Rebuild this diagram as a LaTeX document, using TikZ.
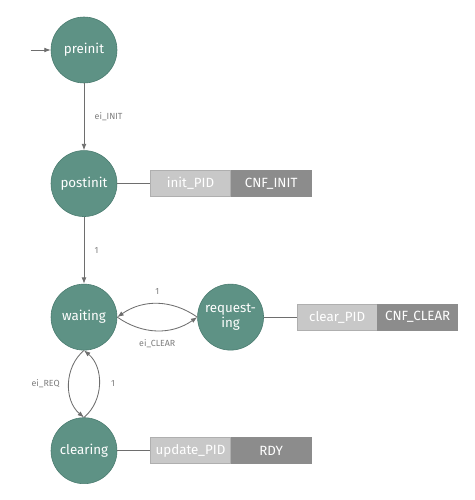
\documentclass[tikz,border=0pt]{standalone}
\usepackage{fontspec}
\setmainfont{Fira Sans}
\usetikzlibrary{
    arrows.meta,
    positioning
}
\definecolor{stateteal}{RGB}{94,146,133}
\definecolor{stateedge}{RGB}{72,122,110}
\definecolor{actlight}{RGB}{200,200,200}
\definecolor{actdark}{RGB}{140,140,140}
\definecolor{actline}{RGB}{175,175,175}
\definecolor{wireline}{RGB}{110,110,110}
\definecolor{labelgray}{RGB}{125,125,125}

\begin{document}
\begin{tikzpicture}[
        node distance=1.675cm,
        state/.style={
            circle,
            draw=stateedge,
            fill=stateteal,
            text=white,
            minimum size=1.65cm,
            inner sep=0pt,
            align=center,
            font=\fontsize{9.5}{10.5}\selectfont
        },
        action/.style={
            draw=actline,
            fill=actlight,
            text=white,
            minimum width=2cm,
            minimum height=0.65cm,
            inner sep=0pt,
            font=\fontsize{9.5}{11}\selectfont
        },
        confirm/.style={
            action,
            draw=actdark,
            fill=actdark
        },
        arrow/.style={
            -{Latex[length=1.6mm]},
            line width=0.6pt,
            draw=wireline
        },
        wire/.style={
            line width=0.6pt,
            draw=wireline
        },
        cond/.style={
            text=labelgray,
            font=\fontsize{6.3}{7.5}\selectfont
        }
    ]

    \useasboundingbox (-2.1,1.25) rectangle (9.75,-11.25);

    % states
    \node[state] (preinit) {preinit};
    \node[state, below=of preinit] (postinit) {postinit};
    \node[state, below=of postinit] (waiting) {waiting};
    \node[state, right=2cm of waiting] (requesting) {request-\\ing};
    \node[state, below=of waiting] (clearing) {clearing};

    % actions
    \node[action, right=0.825cm of postinit] (initpid) {init\_PID};
    \node[confirm, right=0pt of initpid] (cnfinit) {CNF\_INIT};
    \node[action, right=0.825cm of requesting] (clearpid) {clear\_PID};
    \node[confirm, right=0pt of clearpid] (cnfclear) {CNF\_CLEAR};
    \node[action, right=0.825cm of clearing] (updatepid) {update\_PID};
    \node[confirm, right=0pt of updatepid] (rdy) {RDY};

    \draw[wire] (postinit) -- (initpid);
    \draw[wire] (requesting) -- (clearpid);
    \draw[wire] (clearing) -- (updatepid);

    % transitions
    \coordinate[left=0.5cm of preinit] (entry);
    \draw[arrow] (entry) -- (preinit);
    \draw[arrow] (preinit) -- node[cond, right=4pt] {ei\_INIT} (postinit);
    \draw[arrow] (postinit) -- node[cond, right=4pt] {1} (waiting);
    \draw[arrow] (requesting.west) to[bend right=35]
        node[cond, above=3pt] {1} (waiting.east);
    \draw[arrow] (waiting.east) to[bend right=35]
        node[cond, below=3pt] {ei\_CLEAR} (requesting.west);
    \draw[arrow] (waiting.south) to[bend right=50]
        node[cond, left=3pt] {ei\_REQ} (clearing.north);
    \draw[arrow] (clearing.north) to[bend right=50]
        node[cond, right=5pt] {1} (waiting.south);

\end{tikzpicture}
\end{document}
